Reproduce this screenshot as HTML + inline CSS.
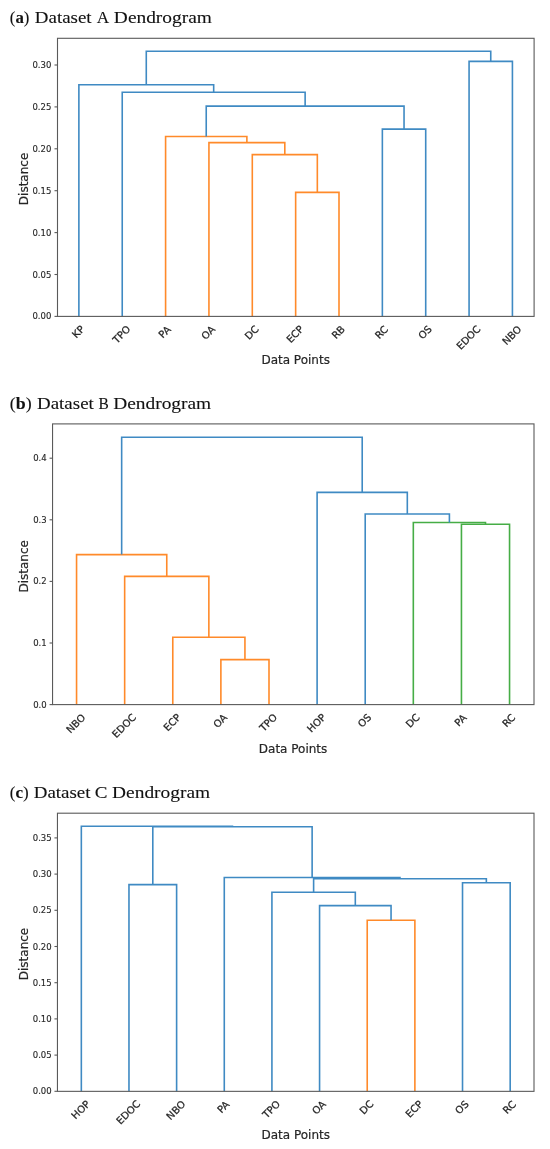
<!DOCTYPE html>
<html><head><meta charset="utf-8"><title>Dendrograms</title>
<style>html,body{margin:0;padding:0;background:#fff;}svg{display:block;}</style></head>
<body><svg width="550" height="1149" viewBox="0 0 550 1149">
<rect width="550" height="1149" fill="#fff"/>
<path d="M295.65,316.40V192.40H339.00V316.40" fill="none" stroke="#ff8a2a" stroke-width="1.6"/>
<path d="M252.30,316.40V154.60H317.33V192.40" fill="none" stroke="#ff8a2a" stroke-width="1.6"/>
<path d="M208.94,316.40V142.60H284.81V154.60" fill="none" stroke="#ff8a2a" stroke-width="1.6"/>
<path d="M165.59,316.40V136.50H246.88V142.60" fill="none" stroke="#ff8a2a" stroke-width="1.6"/>
<path d="M382.36,316.40V129.10H425.71V316.40" fill="none" stroke="#3f8ac3" stroke-width="1.6"/>
<path d="M206.23,136.50V106.10H404.04V129.10" fill="none" stroke="#3f8ac3" stroke-width="1.6"/>
<path d="M122.23,316.40V92.30H305.13V106.10" fill="none" stroke="#3f8ac3" stroke-width="1.6"/>
<path d="M78.88,316.40V84.70H213.68V92.30" fill="none" stroke="#3f8ac3" stroke-width="1.6"/>
<path d="M469.07,316.40V61.40H512.42V316.40" fill="none" stroke="#3f8ac3" stroke-width="1.6"/>
<path d="M146.28,84.70V51.20H490.75V61.40" fill="none" stroke="#3f8ac3" stroke-width="1.6"/>
<rect x="57.5" y="38.3" width="476.60" height="278.10" fill="none" stroke="#5a5a5a" stroke-width="1.1"/>
<line x1="54.50" y1="316.40" x2="57.50" y2="316.40" stroke="#5a5a5a" stroke-width="1.1"/>
<text x="51.40" y="319.46" font-size="8.5" text-anchor="end" font-family="'DejaVu Sans', 'Liberation Sans', sans-serif" fill="#262626" stroke="#262626" stroke-width="0.12" >0.00</text>
<line x1="54.50" y1="274.50" x2="57.50" y2="274.50" stroke="#5a5a5a" stroke-width="1.1"/>
<text x="51.40" y="277.56" font-size="8.5" text-anchor="end" font-family="'DejaVu Sans', 'Liberation Sans', sans-serif" fill="#262626" stroke="#262626" stroke-width="0.12" >0.05</text>
<line x1="54.50" y1="232.60" x2="57.50" y2="232.60" stroke="#5a5a5a" stroke-width="1.1"/>
<text x="51.40" y="235.66" font-size="8.5" text-anchor="end" font-family="'DejaVu Sans', 'Liberation Sans', sans-serif" fill="#262626" stroke="#262626" stroke-width="0.12" >0.10</text>
<line x1="54.50" y1="190.70" x2="57.50" y2="190.70" stroke="#5a5a5a" stroke-width="1.1"/>
<text x="51.40" y="193.76" font-size="8.5" text-anchor="end" font-family="'DejaVu Sans', 'Liberation Sans', sans-serif" fill="#262626" stroke="#262626" stroke-width="0.12" >0.15</text>
<line x1="54.50" y1="148.80" x2="57.50" y2="148.80" stroke="#5a5a5a" stroke-width="1.1"/>
<text x="51.40" y="151.86" font-size="8.5" text-anchor="end" font-family="'DejaVu Sans', 'Liberation Sans', sans-serif" fill="#262626" stroke="#262626" stroke-width="0.12" >0.20</text>
<line x1="54.50" y1="106.90" x2="57.50" y2="106.90" stroke="#5a5a5a" stroke-width="1.1"/>
<text x="51.40" y="109.96" font-size="8.5" text-anchor="end" font-family="'DejaVu Sans', 'Liberation Sans', sans-serif" fill="#262626" stroke="#262626" stroke-width="0.12" >0.25</text>
<line x1="54.50" y1="65.00" x2="57.50" y2="65.00" stroke="#5a5a5a" stroke-width="1.1"/>
<text x="51.40" y="68.06" font-size="8.5" text-anchor="end" font-family="'DejaVu Sans', 'Liberation Sans', sans-serif" fill="#262626" stroke="#262626" stroke-width="0.12" >0.30</text>
<text x="76.26" y="338.68" font-size="10.0" text-anchor="start" font-family="'DejaVu Sans', 'Liberation Sans', sans-serif" fill="#262626" stroke="#262626" stroke-width="0.25" transform="rotate(-45 76.26 338.68)">KP</text>
<text x="117.00" y="343.92" font-size="10.0" text-anchor="start" font-family="'DejaVu Sans', 'Liberation Sans', sans-serif" fill="#262626" stroke="#262626" stroke-width="0.25" transform="rotate(-45 117.00 343.92)">TPO</text>
<text x="162.87" y="338.87" font-size="10.0" text-anchor="start" font-family="'DejaVu Sans', 'Liberation Sans', sans-serif" fill="#262626" stroke="#262626" stroke-width="0.25" transform="rotate(-45 162.87 338.87)">PA</text>
<text x="205.58" y="340.18" font-size="10.0" text-anchor="start" font-family="'DejaVu Sans', 'Liberation Sans', sans-serif" fill="#262626" stroke="#262626" stroke-width="0.25" transform="rotate(-45 205.58 340.18)">OA</text>
<text x="248.94" y="340.15" font-size="10.0" text-anchor="start" font-family="'DejaVu Sans', 'Liberation Sans', sans-serif" fill="#262626" stroke="#262626" stroke-width="0.25" transform="rotate(-45 248.94 340.15)">DC</text>
<text x="290.65" y="343.44" font-size="10.0" text-anchor="start" font-family="'DejaVu Sans', 'Liberation Sans', sans-serif" fill="#262626" stroke="#262626" stroke-width="0.25" transform="rotate(-45 290.65 343.44)">ECP</text>
<text x="335.96" y="339.54" font-size="10.0" text-anchor="start" font-family="'DejaVu Sans', 'Liberation Sans', sans-serif" fill="#262626" stroke="#262626" stroke-width="0.25" transform="rotate(-45 335.96 339.54)">RB</text>
<text x="379.27" y="339.62" font-size="10.0" text-anchor="start" font-family="'DejaVu Sans', 'Liberation Sans', sans-serif" fill="#262626" stroke="#262626" stroke-width="0.25" transform="rotate(-45 379.27 339.62)">RC</text>
<text x="422.52" y="339.83" font-size="10.0" text-anchor="start" font-family="'DejaVu Sans', 'Liberation Sans', sans-serif" fill="#262626" stroke="#262626" stroke-width="0.25" transform="rotate(-45 422.52 339.83)">OS</text>
<text x="460.70" y="350.19" font-size="10.0" text-anchor="start" font-family="'DejaVu Sans', 'Liberation Sans', sans-serif" fill="#262626" stroke="#262626" stroke-width="0.25" transform="rotate(-45 460.70 350.19)">EDOC</text>
<text x="506.41" y="345.48" font-size="10.0" text-anchor="start" font-family="'DejaVu Sans', 'Liberation Sans', sans-serif" fill="#262626" stroke="#262626" stroke-width="0.25" transform="rotate(-45 506.41 345.48)">NBO</text>
<text x="295.65" y="363.80" font-size="12.0" text-anchor="middle" font-family="'DejaVu Sans', 'Liberation Sans', sans-serif" fill="#262626" stroke="#262626" stroke-width="0.2" >Data Points</text>
<text x="27.60" y="178.90" font-size="12.0" text-anchor="middle" font-family="'DejaVu Sans', 'Liberation Sans', sans-serif" fill="#262626" stroke="#262626" stroke-width="0.2" transform="rotate(-90 27.60 178.90)">Distance</text>
<text x="9.84" y="22.8" font-size="17.5" font-family="'Liberation Serif', serif" fill="#111" stroke="#111" stroke-width="0.1" textLength="19.55" lengthAdjust="spacingAndGlyphs">(<tspan font-weight="bold">a</tspan>)</text>
<text x="34.82" y="22.8" font-size="17.5" font-family="'Liberation Serif', serif" fill="#111" stroke="#111" stroke-width="0.1" textLength="56.80" lengthAdjust="spacingAndGlyphs">Dataset</text>
<text x="96.80" y="22.8" font-size="17.5" font-family="'Liberation Serif', serif" fill="#111" stroke="#111" stroke-width="0.1" textLength="12.43" lengthAdjust="spacingAndGlyphs">A</text>
<text x="113.89" y="22.8" font-size="17.5" font-family="'Liberation Serif', serif" fill="#111" stroke="#111" stroke-width="0.1" textLength="98.01" lengthAdjust="spacingAndGlyphs">Dendrogram</text>
<path d="M220.88,704.60V659.60H269.00V704.60" fill="none" stroke="#ff8a2a" stroke-width="1.6"/>
<path d="M172.78,704.60V637.20H244.94V659.60" fill="none" stroke="#ff8a2a" stroke-width="1.6"/>
<path d="M124.66,704.60V576.40H208.86V637.20" fill="none" stroke="#ff8a2a" stroke-width="1.6"/>
<path d="M76.56,704.60V554.60H166.76V576.40" fill="none" stroke="#ff8a2a" stroke-width="1.6"/>
<path d="M461.44,704.60V524.20H509.55V704.60" fill="none" stroke="#46ad46" stroke-width="1.6"/>
<path d="M413.32,704.60V522.50H485.49V524.20" fill="none" stroke="#46ad46" stroke-width="1.6"/>
<path d="M365.21,704.60V514.00H449.41V522.50" fill="none" stroke="#3f8ac3" stroke-width="1.6"/>
<path d="M317.11,704.60V492.40H407.31V514.00" fill="none" stroke="#3f8ac3" stroke-width="1.6"/>
<path d="M121.66,554.60V437.30H362.21V492.40" fill="none" stroke="#3f8ac3" stroke-width="1.6"/>
<rect x="52.55" y="423.9" width="481.45" height="280.70" fill="none" stroke="#5a5a5a" stroke-width="1.1"/>
<line x1="49.55" y1="704.60" x2="52.55" y2="704.60" stroke="#5a5a5a" stroke-width="1.1"/>
<text x="46.70" y="707.66" font-size="8.5" text-anchor="end" font-family="'DejaVu Sans', 'Liberation Sans', sans-serif" fill="#262626" stroke="#262626" stroke-width="0.12" >0.0</text>
<line x1="49.55" y1="643.00" x2="52.55" y2="643.00" stroke="#5a5a5a" stroke-width="1.1"/>
<text x="46.70" y="646.06" font-size="8.5" text-anchor="end" font-family="'DejaVu Sans', 'Liberation Sans', sans-serif" fill="#262626" stroke="#262626" stroke-width="0.12" >0.1</text>
<line x1="49.55" y1="581.40" x2="52.55" y2="581.40" stroke="#5a5a5a" stroke-width="1.1"/>
<text x="46.70" y="584.46" font-size="8.5" text-anchor="end" font-family="'DejaVu Sans', 'Liberation Sans', sans-serif" fill="#262626" stroke="#262626" stroke-width="0.12" >0.2</text>
<line x1="49.55" y1="519.80" x2="52.55" y2="519.80" stroke="#5a5a5a" stroke-width="1.1"/>
<text x="46.70" y="522.86" font-size="8.5" text-anchor="end" font-family="'DejaVu Sans', 'Liberation Sans', sans-serif" fill="#262626" stroke="#262626" stroke-width="0.12" >0.3</text>
<line x1="49.55" y1="458.20" x2="52.55" y2="458.20" stroke="#5a5a5a" stroke-width="1.1"/>
<text x="46.70" y="461.26" font-size="8.5" text-anchor="end" font-family="'DejaVu Sans', 'Liberation Sans', sans-serif" fill="#262626" stroke="#262626" stroke-width="0.12" >0.4</text>
<text x="70.54" y="733.68" font-size="10.0" text-anchor="start" font-family="'DejaVu Sans', 'Liberation Sans', sans-serif" fill="#262626" stroke="#262626" stroke-width="0.25" transform="rotate(-45 70.54 733.68)">NBO</text>
<text x="116.30" y="738.39" font-size="10.0" text-anchor="start" font-family="'DejaVu Sans', 'Liberation Sans', sans-serif" fill="#262626" stroke="#262626" stroke-width="0.25" transform="rotate(-45 116.30 738.39)">EDOC</text>
<text x="167.78" y="731.64" font-size="10.0" text-anchor="start" font-family="'DejaVu Sans', 'Liberation Sans', sans-serif" fill="#262626" stroke="#262626" stroke-width="0.25" transform="rotate(-45 167.78 731.64)">ECP</text>
<text x="217.52" y="728.38" font-size="10.0" text-anchor="start" font-family="'DejaVu Sans', 'Liberation Sans', sans-serif" fill="#262626" stroke="#262626" stroke-width="0.25" transform="rotate(-45 217.52 728.38)">OA</text>
<text x="263.76" y="732.12" font-size="10.0" text-anchor="start" font-family="'DejaVu Sans', 'Liberation Sans', sans-serif" fill="#262626" stroke="#262626" stroke-width="0.25" transform="rotate(-45 263.76 732.12)">TPO</text>
<text x="311.37" y="733.12" font-size="10.0" text-anchor="start" font-family="'DejaVu Sans', 'Liberation Sans', sans-serif" fill="#262626" stroke="#262626" stroke-width="0.25" transform="rotate(-45 311.37 733.12)">HOP</text>
<text x="362.03" y="728.03" font-size="10.0" text-anchor="start" font-family="'DejaVu Sans', 'Liberation Sans', sans-serif" fill="#262626" stroke="#262626" stroke-width="0.25" transform="rotate(-45 362.03 728.03)">OS</text>
<text x="409.97" y="728.35" font-size="10.0" text-anchor="start" font-family="'DejaVu Sans', 'Liberation Sans', sans-serif" fill="#262626" stroke="#262626" stroke-width="0.25" transform="rotate(-45 409.97 728.35)">DC</text>
<text x="458.72" y="727.07" font-size="10.0" text-anchor="start" font-family="'DejaVu Sans', 'Liberation Sans', sans-serif" fill="#262626" stroke="#262626" stroke-width="0.25" transform="rotate(-45 458.72 727.07)">PA</text>
<text x="506.46" y="727.82" font-size="10.0" text-anchor="start" font-family="'DejaVu Sans', 'Liberation Sans', sans-serif" fill="#262626" stroke="#262626" stroke-width="0.25" transform="rotate(-45 506.46 727.82)">RC</text>
<text x="293.05" y="752.70" font-size="12.0" text-anchor="middle" font-family="'DejaVu Sans', 'Liberation Sans', sans-serif" fill="#262626" stroke="#262626" stroke-width="0.2" >Data Points</text>
<text x="27.60" y="566.30" font-size="12.0" text-anchor="middle" font-family="'DejaVu Sans', 'Liberation Sans', sans-serif" fill="#262626" stroke="#262626" stroke-width="0.2" transform="rotate(-90 27.60 566.30)">Distance</text>
<text x="9.78" y="408.5" font-size="17.5" font-family="'Liberation Serif', serif" fill="#111" stroke="#111" stroke-width="0.1" textLength="21.82" lengthAdjust="spacingAndGlyphs">(<tspan font-weight="bold">b</tspan>)</text>
<text x="37.02" y="408.5" font-size="17.5" font-family="'Liberation Serif', serif" fill="#111" stroke="#111" stroke-width="0.1" textLength="56.80" lengthAdjust="spacingAndGlyphs">Dataset</text>
<text x="98.62" y="408.5" font-size="17.5" font-family="'Liberation Serif', serif" fill="#111" stroke="#111" stroke-width="0.1" textLength="10.29" lengthAdjust="spacingAndGlyphs">B</text>
<text x="113.19" y="408.5" font-size="17.5" font-family="'Liberation Serif', serif" fill="#111" stroke="#111" stroke-width="0.1" textLength="98.01" lengthAdjust="spacingAndGlyphs">Dendrogram</text>
<path d="M367.22,1091.30V920.20H414.88V1091.30" fill="none" stroke="#ff8a2a" stroke-width="1.6"/>
<path d="M319.57,1091.30V905.60H391.05V920.20" fill="none" stroke="#3f8ac3" stroke-width="1.6"/>
<path d="M271.92,1091.30V892.30H355.31V905.60" fill="none" stroke="#3f8ac3" stroke-width="1.6"/>
<path d="M462.52,1091.30V882.70H510.18V1091.30" fill="none" stroke="#3f8ac3" stroke-width="1.6"/>
<path d="M313.62,892.30V878.80H486.35V882.70" fill="none" stroke="#3f8ac3" stroke-width="1.6"/>
<path d="M224.28,1091.30V877.50H399.98V878.80" fill="none" stroke="#3f8ac3" stroke-width="1.6"/>
<path d="M128.97,1091.30V884.60H176.62V1091.30" fill="none" stroke="#3f8ac3" stroke-width="1.6"/>
<path d="M152.80,884.60V826.70H312.13V877.50" fill="none" stroke="#3f8ac3" stroke-width="1.6"/>
<path d="M81.33,1091.30V826.30H232.46V826.70" fill="none" stroke="#3f8ac3" stroke-width="1.6"/>
<rect x="57.45" y="813.2" width="476.55" height="278.15" fill="none" stroke="#5a5a5a" stroke-width="1.1"/>
<line x1="54.45" y1="1091.30" x2="57.45" y2="1091.30" stroke="#5a5a5a" stroke-width="1.1"/>
<text x="51.70" y="1094.36" font-size="8.5" text-anchor="end" font-family="'DejaVu Sans', 'Liberation Sans', sans-serif" fill="#262626" stroke="#262626" stroke-width="0.12" >0.00</text>
<line x1="54.45" y1="1055.10" x2="57.45" y2="1055.10" stroke="#5a5a5a" stroke-width="1.1"/>
<text x="51.70" y="1058.16" font-size="8.5" text-anchor="end" font-family="'DejaVu Sans', 'Liberation Sans', sans-serif" fill="#262626" stroke="#262626" stroke-width="0.12" >0.05</text>
<line x1="54.45" y1="1018.90" x2="57.45" y2="1018.90" stroke="#5a5a5a" stroke-width="1.1"/>
<text x="51.70" y="1021.96" font-size="8.5" text-anchor="end" font-family="'DejaVu Sans', 'Liberation Sans', sans-serif" fill="#262626" stroke="#262626" stroke-width="0.12" >0.10</text>
<line x1="54.45" y1="982.70" x2="57.45" y2="982.70" stroke="#5a5a5a" stroke-width="1.1"/>
<text x="51.70" y="985.76" font-size="8.5" text-anchor="end" font-family="'DejaVu Sans', 'Liberation Sans', sans-serif" fill="#262626" stroke="#262626" stroke-width="0.12" >0.15</text>
<line x1="54.45" y1="946.50" x2="57.45" y2="946.50" stroke="#5a5a5a" stroke-width="1.1"/>
<text x="51.70" y="949.56" font-size="8.5" text-anchor="end" font-family="'DejaVu Sans', 'Liberation Sans', sans-serif" fill="#262626" stroke="#262626" stroke-width="0.12" >0.20</text>
<line x1="54.45" y1="910.30" x2="57.45" y2="910.30" stroke="#5a5a5a" stroke-width="1.1"/>
<text x="51.70" y="913.36" font-size="8.5" text-anchor="end" font-family="'DejaVu Sans', 'Liberation Sans', sans-serif" fill="#262626" stroke="#262626" stroke-width="0.12" >0.25</text>
<line x1="54.45" y1="874.10" x2="57.45" y2="874.10" stroke="#5a5a5a" stroke-width="1.1"/>
<text x="51.70" y="877.16" font-size="8.5" text-anchor="end" font-family="'DejaVu Sans', 'Liberation Sans', sans-serif" fill="#262626" stroke="#262626" stroke-width="0.12" >0.30</text>
<line x1="54.45" y1="837.90" x2="57.45" y2="837.90" stroke="#5a5a5a" stroke-width="1.1"/>
<text x="51.70" y="840.96" font-size="8.5" text-anchor="end" font-family="'DejaVu Sans', 'Liberation Sans', sans-serif" fill="#262626" stroke="#262626" stroke-width="0.12" >0.35</text>
<text x="75.59" y="1119.82" font-size="10.0" text-anchor="start" font-family="'DejaVu Sans', 'Liberation Sans', sans-serif" fill="#262626" stroke="#262626" stroke-width="0.25" transform="rotate(-45 75.59 1119.82)">HOP</text>
<text x="120.61" y="1125.09" font-size="10.0" text-anchor="start" font-family="'DejaVu Sans', 'Liberation Sans', sans-serif" fill="#262626" stroke="#262626" stroke-width="0.25" transform="rotate(-45 120.61 1125.09)">EDOC</text>
<text x="170.61" y="1120.38" font-size="10.0" text-anchor="start" font-family="'DejaVu Sans', 'Liberation Sans', sans-serif" fill="#262626" stroke="#262626" stroke-width="0.25" transform="rotate(-45 170.61 1120.38)">NBO</text>
<text x="221.56" y="1113.77" font-size="10.0" text-anchor="start" font-family="'DejaVu Sans', 'Liberation Sans', sans-serif" fill="#262626" stroke="#262626" stroke-width="0.25" transform="rotate(-45 221.56 1113.77)">PA</text>
<text x="266.69" y="1118.82" font-size="10.0" text-anchor="start" font-family="'DejaVu Sans', 'Liberation Sans', sans-serif" fill="#262626" stroke="#262626" stroke-width="0.25" transform="rotate(-45 266.69 1118.82)">TPO</text>
<text x="316.21" y="1115.08" font-size="10.0" text-anchor="start" font-family="'DejaVu Sans', 'Liberation Sans', sans-serif" fill="#262626" stroke="#262626" stroke-width="0.25" transform="rotate(-45 316.21 1115.08)">OA</text>
<text x="363.87" y="1115.05" font-size="10.0" text-anchor="start" font-family="'DejaVu Sans', 'Liberation Sans', sans-serif" fill="#262626" stroke="#262626" stroke-width="0.25" transform="rotate(-45 363.87 1115.05)">DC</text>
<text x="409.88" y="1118.34" font-size="10.0" text-anchor="start" font-family="'DejaVu Sans', 'Liberation Sans', sans-serif" fill="#262626" stroke="#262626" stroke-width="0.25" transform="rotate(-45 409.88 1118.34)">ECP</text>
<text x="459.34" y="1114.73" font-size="10.0" text-anchor="start" font-family="'DejaVu Sans', 'Liberation Sans', sans-serif" fill="#262626" stroke="#262626" stroke-width="0.25" transform="rotate(-45 459.34 1114.73)">OS</text>
<text x="507.09" y="1114.52" font-size="10.0" text-anchor="start" font-family="'DejaVu Sans', 'Liberation Sans', sans-serif" fill="#262626" stroke="#262626" stroke-width="0.25" transform="rotate(-45 507.09 1114.52)">RC</text>
<text x="295.75" y="1139.00" font-size="12.0" text-anchor="middle" font-family="'DejaVu Sans', 'Liberation Sans', sans-serif" fill="#262626" stroke="#262626" stroke-width="0.2" >Data Points</text>
<text x="27.60" y="954.00" font-size="12.0" text-anchor="middle" font-family="'DejaVu Sans', 'Liberation Sans', sans-serif" fill="#262626" stroke="#262626" stroke-width="0.2" transform="rotate(-90 27.60 954.00)">Distance</text>
<text x="9.83" y="797.5" font-size="17.5" font-family="'Liberation Serif', serif" fill="#111" stroke="#111" stroke-width="0.1" textLength="18.90" lengthAdjust="spacingAndGlyphs">(<tspan font-weight="bold">c</tspan>)</text>
<text x="33.72" y="797.5" font-size="17.5" font-family="'Liberation Serif', serif" fill="#111" stroke="#111" stroke-width="0.1" textLength="56.80" lengthAdjust="spacingAndGlyphs">Dataset</text>
<text x="94.81" y="797.5" font-size="17.5" font-family="'Liberation Serif', serif" fill="#111" stroke="#111" stroke-width="0.1" textLength="12.74" lengthAdjust="spacingAndGlyphs">C</text>
<text x="112.09" y="797.5" font-size="17.5" font-family="'Liberation Serif', serif" fill="#111" stroke="#111" stroke-width="0.1" textLength="98.01" lengthAdjust="spacingAndGlyphs">Dendrogram</text>
</svg></body></html>
